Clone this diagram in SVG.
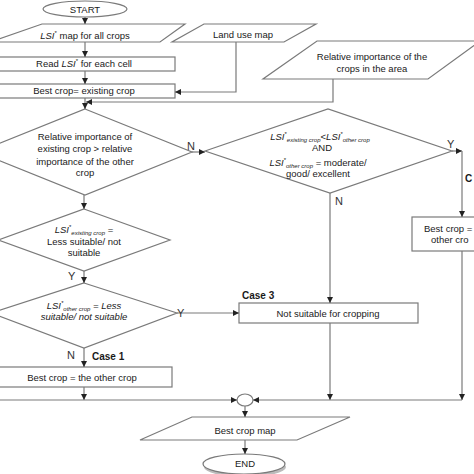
<svg xmlns="http://www.w3.org/2000/svg" width="474" height="474" viewBox="0 0 474 474">
<style>
.s{fill:#fff;stroke:#7a7a7a;stroke-width:1.2}
.c{fill:none;stroke:#7a7a7a;stroke-width:1.2}
text{font-family:"Liberation Sans",Arial,sans-serif;font-size:9.5px;fill:#1a1a1a}
.m{text-anchor:middle}
.b{font-weight:bold;font-size:10px}
.i{font-style:italic}
.sub{font-size:6px;font-style:italic}
.sup{font-size:6px}
.l{font-size:11px;fill:#333}
</style>
<defs>
<marker id="a" markerUnits="userSpaceOnUse" markerWidth="6" markerHeight="6" refX="6" refY="3" orient="auto">
<path d="M0,0 L6,3 L0,6 z" fill="#222"/>
</marker>
</defs>
<rect width="474" height="474" fill="#fff"/>

<g id="start">
<ellipse class="s" cx="85" cy="9" rx="42" ry="8"/>
<text class="m" x="85" y="13">START</text>
</g>
<g id="lsimap">
<polygon class="s" points="42,24 185,24 160,42 -10,42"/>
<text class="m" x="85" y="39"><tspan class="i">LSI</tspan><tspan class="sup" dy="-4">*</tspan><tspan dy="4"> map for all crops</tspan></text>
</g>
<g id="read">
<rect class="s" x="-2" y="57" width="177" height="14"/>
<text class="m" x="84" y="67">Read <tspan class="i">LSI</tspan><tspan class="sup" dy="-4">*</tspan><tspan dy="4"> for each cell</tspan></text>
</g>
<g id="bestexisting">
<rect class="s" x="-2" y="84" width="177" height="14"/>
<text class="m" x="84" y="94">Best crop= existing crop</text>
</g>
<g id="landuse">
<polygon class="s" points="204,24 316,24 284,42 172,42"/>
<text class="m" x="243" y="37.5">Land use map</text>
</g>
<g id="relimp">
<polygon class="s" points="317,41 480,41 428,79 263,79"/>
<text class="m" x="372" y="60">Relative importance of the</text>
<text class="m" x="372" y="72">crops in the area</text>
</g>
<g id="d1">
<polygon class="s" points="85,109 192,152 85,195 -22,152"/>
<text class="m" x="85" y="140">Relative importance of</text>
<text class="m" x="85" y="152">existing crop &gt;  relative</text>
<text class="m" x="85" y="165">importance of the other</text>
<text class="m" x="85" y="176">crop</text>
</g>
<g id="d2">
<polygon class="s" points="205,151 328,109 452,151 330,193"/>
<text class="m" x="320" y="140"><tspan class="i">LSI</tspan><tspan class="sup" dy="-4">*</tspan><tspan class="sub" dy="6">existing crop</tspan><tspan dy="-2">&lt;</tspan><tspan class="i">LSI</tspan><tspan class="sup" dy="-4">*</tspan><tspan class="sub" dy="6">other crop</tspan></text>
<text class="m" x="322" y="151">AND</text>
<text class="m" x="318" y="166"><tspan class="i">LSI</tspan><tspan class="sup" dy="-4">*</tspan><tspan class="sub" dy="6">other crop</tspan><tspan dy="-2"> = moderate/</tspan></text>
<text class="m" x="318" y="177">good/ excellent</text>
</g>
<g id="d3">
<polygon class="s" points="84,209 170,240 84,271 -2,240"/>
<text class="m" x="84" y="233"><tspan class="i">LSI</tspan><tspan class="sup" dy="-4">*</tspan><tspan class="sub" dy="6">existing crop</tspan><tspan dy="-2"> =</tspan></text>
<text class="m" x="84" y="245">Less suitable/ not</text>
<text class="m" x="84" y="256">suitable</text>
</g>
<g id="d4">
<polygon class="s" points="84,283 177,313 84,348 -9,313"/>
<text class="m i" x="84" y="309"><tspan>LSI</tspan><tspan class="sup" dy="-4">*</tspan><tspan class="sub" dy="6">other crop</tspan><tspan dy="-2"> = Less</tspan></text>
<text class="m i" x="84" y="320">suitable/ not suitable</text>
</g>
<g id="bestotherright">
<rect class="s" x="412" y="217" width="70" height="34"/>
<text x="424" y="232">Best crop =</text>
<text x="431" y="243">other cro</text>
</g>
<g id="notsuitable">
<rect class="s" x="239" y="303" width="179" height="20"/>
<text class="m" x="328" y="317">Not suitable for cropping</text>
</g>
<g id="bestotherleft">
<rect class="s" x="-2" y="367" width="174" height="20"/>
<text class="m" x="82" y="381">Best crop = the other crop</text>
</g>
<g id="merge">
<ellipse class="s" cx="245" cy="400" rx="8" ry="6"/>
</g>
<g id="bestmap">
<polygon class="s" points="192,417 350,417 297,440 140,440"/>
<text class="m" x="245" y="434">Best crop map</text>
</g>
<g id="end">
<ellipse cx="245" cy="467" rx="41" ry="10" fill="#bbb"/>
<ellipse class="s" cx="244" cy="464" rx="41" ry="10"/>
<text class="m" x="245" y="467">END</text>
</g>

<g id="connectors">
<path class="c" d="M85,17 L85,24" marker-end="url(#a)"/>
<path class="c" d="M85,42 L85,57" marker-end="url(#a)"/>
<path class="c" d="M85,71 L85,84" marker-end="url(#a)"/>
<path class="c" d="M236,42 L236,92 L175,92" marker-end="url(#a)"/>
<path class="c" d="M333,79 L333,102 L86,102" marker-end="url(#a)"/>
<path class="c" d="M85,98 L85,109" marker-end="url(#a)"/>
<path class="c" d="M192,152 L205,152" marker-end="url(#a)"/>
<path class="c" d="M84,195 L84,209" marker-end="url(#a)"/>
<path class="c" d="M452,151 L462,151" marker-end="url(#a)"/>
<path class="c" d="M462,151 L462,217" marker-end="url(#a)"/>
<path class="c" d="M330,193 L330,303" marker-end="url(#a)"/>
<path class="c" d="M84,271 L84,283" marker-end="url(#a)"/>
<path class="c" d="M177,313 L239,313" marker-end="url(#a)"/>
<path class="c" d="M84,348 L84,367" marker-end="url(#a)"/>
<path class="c" d="M84,387 L84,400" marker-end="url(#a)"/>
<path class="c" d="M0,400 L237,400" marker-end="url(#a)"/>
<path class="c" d="M462,251 L462,400" marker-end="url(#a)"/>
<path class="c" d="M330,323 L330,400" marker-end="url(#a)"/>
<path class="c" d="M462,400 L253,400" marker-end="url(#a)"/>
<path class="c" d="M245,406 L245,417" marker-end="url(#a)"/>
<path class="c" d="M245,440 L245,454" marker-end="url(#a)"/>
</g>

<g id="labels">
<text class="l" x="187" y="150">N</text>
<text class="l" x="447" y="148">Y</text>
<text class="b" x="465" y="182">C</text>
<text class="l" x="335" y="205">N</text>
<text class="l" x="68" y="280">Y</text>
<text class="l" x="177" y="317">Y</text>
<text class="l" x="67" y="359">N</text>
<text class="b" x="92" y="360">Case 1</text>
<text class="b" x="242" y="299">Case 3</text>
</g>
</svg>
